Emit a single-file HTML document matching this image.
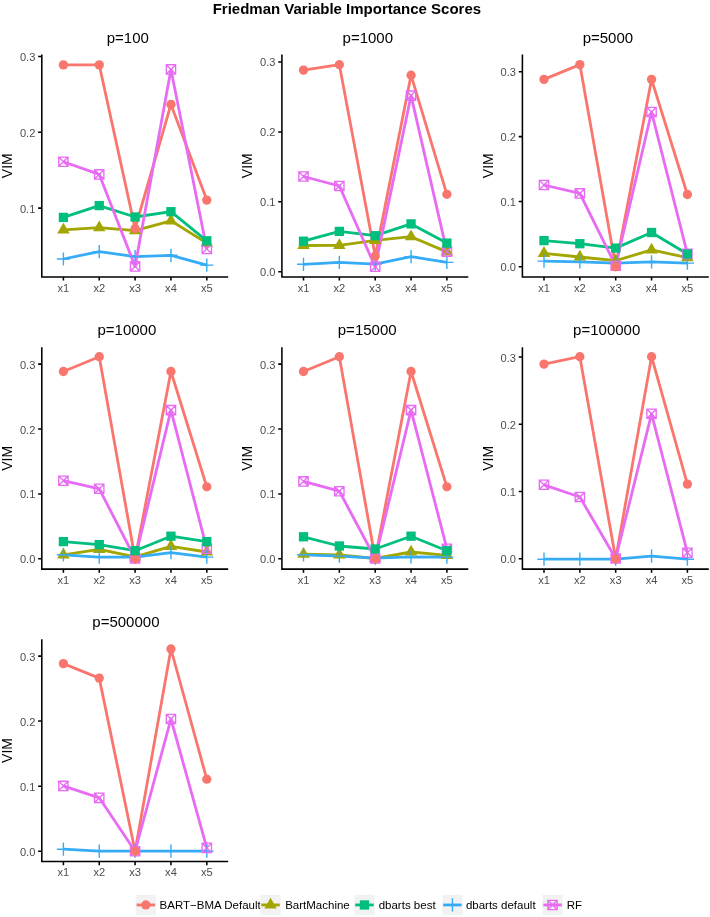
<!DOCTYPE html>
<html lang="en">
<head>
<meta charset="utf-8">
<title>Friedman Variable Importance Scores</title>
<style>
html,body{margin:0;padding:0;background:#fff;}
body{width:710px;height:917px;overflow:hidden;font-family:"Liberation Sans",sans-serif;}
svg{display:block;}
</style>
</head>
<body>
<svg width="710" height="917" viewBox="0 0 710 917" font-family="'Liberation Sans', sans-serif">
<rect width="710" height="917" fill="#ffffff"/>
<text x="346.9" y="13.9" font-size="15" font-weight="bold" text-anchor="middle" fill="#000">Friedman Variable Importance Scores</text>
<g>
<text x="127.8" y="43.3" font-size="15" text-anchor="middle" fill="#000">p=100</text>
<polyline points="63.4,64.9 99.25,64.9 135.1,228.5 170.95,104.4 206.8,200.1" fill="none" stroke="#F8766D" stroke-width="2.8" stroke-linejoin="round"/>
<polyline points="63.4,229.9 99.25,227.6 135.1,230.6 170.95,220.8 206.8,243.1" fill="none" stroke="#A3A500" stroke-width="2.8" stroke-linejoin="round"/>
<polyline points="63.4,217.4 99.25,205.6 135.1,217 170.95,211.7 206.8,240.8" fill="none" stroke="#00BF7D" stroke-width="2.8" stroke-linejoin="round"/>
<polyline points="63.4,259 99.25,251.6 135.1,256.6 170.95,255.3 206.8,265.1" fill="none" stroke="#35ACF5" stroke-width="2.8" stroke-linejoin="round"/>
<polyline points="63.4,161.7 99.25,174.4 135.1,266.4 170.95,69.4 206.8,248.9" fill="none" stroke="#E76BF3" stroke-width="2.8" stroke-linejoin="round"/>
<path d="M63.4 222.69L69.65 233.51L57.15 233.51Z" fill="#A3A500"/>
<path d="M99.25 220.39L105.5 231.21L93 231.21Z" fill="#A3A500"/>
<path d="M135.1 223.39L141.35 234.21L128.85 234.21Z" fill="#A3A500"/>
<path d="M170.95 213.59L177.2 224.41L164.7 224.41Z" fill="#A3A500"/>
<path d="M206.8 235.89L213.05 246.71L200.55 246.71Z" fill="#A3A500"/>
<path d="M56.82 259H69.98M63.4 252.42V265.58" stroke="#35ACF5" stroke-width="1.4" fill="none"/>
<path d="M92.67 251.6H105.83M99.25 245.02V258.18" stroke="#35ACF5" stroke-width="1.4" fill="none"/>
<path d="M128.52 256.6H141.68M135.1 250.02V263.18" stroke="#35ACF5" stroke-width="1.4" fill="none"/>
<path d="M164.37 255.3H177.53M170.95 248.72V261.88" stroke="#35ACF5" stroke-width="1.4" fill="none"/>
<path d="M200.22 265.1H213.38M206.8 258.52V271.68" stroke="#35ACF5" stroke-width="1.4" fill="none"/>
<path d="M58.75 157.05h9.3v9.3h-9.3zM58.75 157.05l9.3 9.3M58.75 166.35l9.3 -9.3" stroke="#E76BF3" stroke-width="1.35" fill="none"/>
<path d="M94.6 169.75h9.3v9.3h-9.3zM94.6 169.75l9.3 9.3M94.6 179.05l9.3 -9.3" stroke="#E76BF3" stroke-width="1.35" fill="none"/>
<path d="M130.45 261.75h9.3v9.3h-9.3zM130.45 261.75l9.3 9.3M130.45 271.05l9.3 -9.3" stroke="#E76BF3" stroke-width="1.35" fill="none"/>
<path d="M166.3 64.75h9.3v9.3h-9.3zM166.3 64.75l9.3 9.3M166.3 74.05l9.3 -9.3" stroke="#E76BF3" stroke-width="1.35" fill="none"/>
<path d="M202.15 244.25h9.3v9.3h-9.3zM202.15 244.25l9.3 9.3M202.15 253.55l9.3 -9.3" stroke="#E76BF3" stroke-width="1.35" fill="none"/>
<circle cx="63.4" cy="64.9" r="4.65" fill="#F8766D"/>
<circle cx="99.25" cy="64.9" r="4.65" fill="#F8766D"/>
<circle cx="135.1" cy="228.5" r="4.65" fill="#F8766D"/>
<circle cx="170.95" cy="104.4" r="4.65" fill="#F8766D"/>
<circle cx="206.8" cy="200.1" r="4.65" fill="#F8766D"/>
<rect x="58.75" y="212.75" width="9.3" height="9.3" fill="#00BF7D"/>
<rect x="94.6" y="200.95" width="9.3" height="9.3" fill="#00BF7D"/>
<rect x="130.45" y="212.35" width="9.3" height="9.3" fill="#00BF7D"/>
<rect x="166.3" y="207.05" width="9.3" height="9.3" fill="#00BF7D"/>
<rect x="202.15" y="236.15" width="9.3" height="9.3" fill="#00BF7D"/>
<path d="M41.8 54.4V276.9H228.2" fill="none" stroke="#000000" stroke-width="1.55" stroke-linejoin="miter"/>
<text x="35.3" y="60.9" font-size="11.1" text-anchor="end" fill="#4D4D4D">0.3</text>
<text x="35.3" y="136.8" font-size="11.1" text-anchor="end" fill="#4D4D4D">0.2</text>
<text x="35.3" y="212.6" font-size="11.1" text-anchor="end" fill="#4D4D4D">0.1</text>
<text x="63.4" y="291.5" font-size="11.1" text-anchor="middle" fill="#4D4D4D">x1</text>
<text x="99.25" y="291.5" font-size="11.1" text-anchor="middle" fill="#4D4D4D">x2</text>
<text x="135.1" y="291.5" font-size="11.1" text-anchor="middle" fill="#4D4D4D">x3</text>
<text x="170.95" y="291.5" font-size="11.1" text-anchor="middle" fill="#4D4D4D">x4</text>
<text x="206.8" y="291.5" font-size="11.1" text-anchor="middle" fill="#4D4D4D">x5</text>
<path d="M41.8 56.4h-3.67M41.8 132.3h-3.67M41.8 208.1h-3.67M63.4 276.9v3.67M99.25 276.9v3.67M135.1 276.9v3.67M170.95 276.9v3.67M206.8 276.9v3.67" fill="none" stroke="#000000" stroke-width="1.55"/>
<text transform="translate(11.9 165.75) rotate(-90)" font-size="14" text-anchor="middle" fill="#000">VIM</text>
</g>
<g>
<text x="367.8" y="43.3" font-size="15" text-anchor="middle" fill="#000">p=1000</text>
<polyline points="303.5,70.1 339.35,64.7 375.2,256 411.05,75.2 446.9,194.3" fill="none" stroke="#F8766D" stroke-width="2.8" stroke-linejoin="round"/>
<polyline points="303.5,245.5 339.35,245.4 375.2,240.4 411.05,236.7 446.9,251.9" fill="none" stroke="#A3A500" stroke-width="2.8" stroke-linejoin="round"/>
<polyline points="303.5,241.2 339.35,231.4 375.2,235.7 411.05,223.9 446.9,243.1" fill="none" stroke="#00BF7D" stroke-width="2.8" stroke-linejoin="round"/>
<polyline points="303.5,264.3 339.35,262.4 375.2,264.1 411.05,256.6 446.9,262.4" fill="none" stroke="#35ACF5" stroke-width="2.8" stroke-linejoin="round"/>
<polyline points="303.5,176.5 339.35,186 375.2,266.8 411.05,95.6 446.9,251.6" fill="none" stroke="#E76BF3" stroke-width="2.8" stroke-linejoin="round"/>
<path d="M303.5 238.29L309.75 249.11L297.25 249.11Z" fill="#A3A500"/>
<path d="M339.35 238.19L345.6 249.01L333.1 249.01Z" fill="#A3A500"/>
<path d="M375.2 233.19L381.45 244.01L368.95 244.01Z" fill="#A3A500"/>
<path d="M411.05 229.49L417.3 240.31L404.8 240.31Z" fill="#A3A500"/>
<path d="M446.9 244.69L453.15 255.51L440.65 255.51Z" fill="#A3A500"/>
<path d="M296.92 264.3H310.08M303.5 257.72V270.88" stroke="#35ACF5" stroke-width="1.4" fill="none"/>
<path d="M332.77 262.4H345.93M339.35 255.82V268.98" stroke="#35ACF5" stroke-width="1.4" fill="none"/>
<path d="M368.62 264.1H381.78M375.2 257.52V270.68" stroke="#35ACF5" stroke-width="1.4" fill="none"/>
<path d="M404.47 256.6H417.63M411.05 250.02V263.18" stroke="#35ACF5" stroke-width="1.4" fill="none"/>
<path d="M440.32 262.4H453.48M446.9 255.82V268.98" stroke="#35ACF5" stroke-width="1.4" fill="none"/>
<path d="M298.85 171.85h9.3v9.3h-9.3zM298.85 171.85l9.3 9.3M298.85 181.15l9.3 -9.3" stroke="#E76BF3" stroke-width="1.35" fill="none"/>
<path d="M334.7 181.35h9.3v9.3h-9.3zM334.7 181.35l9.3 9.3M334.7 190.65l9.3 -9.3" stroke="#E76BF3" stroke-width="1.35" fill="none"/>
<path d="M370.55 262.15h9.3v9.3h-9.3zM370.55 262.15l9.3 9.3M370.55 271.45l9.3 -9.3" stroke="#E76BF3" stroke-width="1.35" fill="none"/>
<path d="M406.4 90.95h9.3v9.3h-9.3zM406.4 90.95l9.3 9.3M406.4 100.25l9.3 -9.3" stroke="#E76BF3" stroke-width="1.35" fill="none"/>
<path d="M442.25 246.95h9.3v9.3h-9.3zM442.25 246.95l9.3 9.3M442.25 256.25l9.3 -9.3" stroke="#E76BF3" stroke-width="1.35" fill="none"/>
<circle cx="303.5" cy="70.1" r="4.65" fill="#F8766D"/>
<circle cx="339.35" cy="64.7" r="4.65" fill="#F8766D"/>
<circle cx="375.2" cy="256" r="4.65" fill="#F8766D"/>
<circle cx="411.05" cy="75.2" r="4.65" fill="#F8766D"/>
<circle cx="446.9" cy="194.3" r="4.65" fill="#F8766D"/>
<rect x="298.85" y="236.55" width="9.3" height="9.3" fill="#00BF7D"/>
<rect x="334.7" y="226.75" width="9.3" height="9.3" fill="#00BF7D"/>
<rect x="370.55" y="231.05" width="9.3" height="9.3" fill="#00BF7D"/>
<rect x="406.4" y="219.25" width="9.3" height="9.3" fill="#00BF7D"/>
<rect x="442.25" y="238.45" width="9.3" height="9.3" fill="#00BF7D"/>
<path d="M281.9 54.4V276.9H468.3" fill="none" stroke="#000000" stroke-width="1.55" stroke-linejoin="miter"/>
<text x="275.4" y="66.4" font-size="11.1" text-anchor="end" fill="#4D4D4D">0.3</text>
<text x="275.4" y="136.4" font-size="11.1" text-anchor="end" fill="#4D4D4D">0.2</text>
<text x="275.4" y="206.2" font-size="11.1" text-anchor="end" fill="#4D4D4D">0.1</text>
<text x="275.4" y="276.2" font-size="11.1" text-anchor="end" fill="#4D4D4D">0.0</text>
<text x="303.5" y="291.5" font-size="11.1" text-anchor="middle" fill="#4D4D4D">x1</text>
<text x="339.35" y="291.5" font-size="11.1" text-anchor="middle" fill="#4D4D4D">x2</text>
<text x="375.2" y="291.5" font-size="11.1" text-anchor="middle" fill="#4D4D4D">x3</text>
<text x="411.05" y="291.5" font-size="11.1" text-anchor="middle" fill="#4D4D4D">x4</text>
<text x="446.9" y="291.5" font-size="11.1" text-anchor="middle" fill="#4D4D4D">x5</text>
<path d="M281.9 61.9h-3.67M281.9 131.9h-3.67M281.9 201.7h-3.67M281.9 271.7h-3.67M303.5 276.9v3.67M339.35 276.9v3.67M375.2 276.9v3.67M411.05 276.9v3.67M446.9 276.9v3.67" fill="none" stroke="#000000" stroke-width="1.55"/>
<text transform="translate(252 165.75) rotate(-90)" font-size="14" text-anchor="middle" fill="#000">VIM</text>
</g>
<g>
<text x="607.9" y="43.3" font-size="15" text-anchor="middle" fill="#000">p=5000</text>
<polyline points="544,79.4 579.85,64.6 615.7,266.8 651.55,79.4 687.4,194.5" fill="none" stroke="#F8766D" stroke-width="2.8" stroke-linejoin="round"/>
<polyline points="544,253.3 579.85,257 615.7,260.7 651.55,249.9 687.4,257.7" fill="none" stroke="#A3A500" stroke-width="2.8" stroke-linejoin="round"/>
<polyline points="544,240.6 579.85,243.7 615.7,248.1 651.55,232.5 687.4,254" fill="none" stroke="#00BF7D" stroke-width="2.8" stroke-linejoin="round"/>
<polyline points="544,261.1 579.85,261.8 615.7,263.1 651.55,261.8 687.4,263.1" fill="none" stroke="#35ACF5" stroke-width="2.8" stroke-linejoin="round"/>
<polyline points="544,185 579.85,193.4 615.7,265.8 651.55,112 687.4,253.9" fill="none" stroke="#E76BF3" stroke-width="2.8" stroke-linejoin="round"/>
<path d="M544 246.09L550.25 256.91L537.75 256.91Z" fill="#A3A500"/>
<path d="M579.85 249.79L586.1 260.61L573.6 260.61Z" fill="#A3A500"/>
<path d="M615.7 253.49L621.95 264.31L609.45 264.31Z" fill="#A3A500"/>
<path d="M651.55 242.69L657.8 253.51L645.3 253.51Z" fill="#A3A500"/>
<path d="M687.4 250.49L693.65 261.31L681.15 261.31Z" fill="#A3A500"/>
<path d="M537.42 261.1H550.58M544 254.52V267.68" stroke="#35ACF5" stroke-width="1.4" fill="none"/>
<path d="M573.27 261.8H586.43M579.85 255.22V268.38" stroke="#35ACF5" stroke-width="1.4" fill="none"/>
<path d="M609.12 263.1H622.28M615.7 256.52V269.68" stroke="#35ACF5" stroke-width="1.4" fill="none"/>
<path d="M644.97 261.8H658.13M651.55 255.22V268.38" stroke="#35ACF5" stroke-width="1.4" fill="none"/>
<path d="M680.82 263.1H693.98M687.4 256.52V269.68" stroke="#35ACF5" stroke-width="1.4" fill="none"/>
<path d="M539.35 180.35h9.3v9.3h-9.3zM539.35 180.35l9.3 9.3M539.35 189.65l9.3 -9.3" stroke="#E76BF3" stroke-width="1.35" fill="none"/>
<path d="M575.2 188.75h9.3v9.3h-9.3zM575.2 188.75l9.3 9.3M575.2 198.05l9.3 -9.3" stroke="#E76BF3" stroke-width="1.35" fill="none"/>
<path d="M611.05 261.15h9.3v9.3h-9.3zM611.05 261.15l9.3 9.3M611.05 270.45l9.3 -9.3" stroke="#E76BF3" stroke-width="1.35" fill="none"/>
<path d="M646.9 107.35h9.3v9.3h-9.3zM646.9 107.35l9.3 9.3M646.9 116.65l9.3 -9.3" stroke="#E76BF3" stroke-width="1.35" fill="none"/>
<path d="M682.75 249.25h9.3v9.3h-9.3zM682.75 249.25l9.3 9.3M682.75 258.55l9.3 -9.3" stroke="#E76BF3" stroke-width="1.35" fill="none"/>
<circle cx="544" cy="79.4" r="4.65" fill="#F8766D"/>
<circle cx="579.85" cy="64.6" r="4.65" fill="#F8766D"/>
<circle cx="615.7" cy="266.8" r="4.65" fill="#F8766D"/>
<circle cx="651.55" cy="79.4" r="4.65" fill="#F8766D"/>
<circle cx="687.4" cy="194.5" r="4.65" fill="#F8766D"/>
<rect x="539.35" y="235.95" width="9.3" height="9.3" fill="#00BF7D"/>
<rect x="575.2" y="239.05" width="9.3" height="9.3" fill="#00BF7D"/>
<rect x="611.05" y="243.45" width="9.3" height="9.3" fill="#00BF7D"/>
<rect x="646.9" y="227.85" width="9.3" height="9.3" fill="#00BF7D"/>
<rect x="682.75" y="249.35" width="9.3" height="9.3" fill="#00BF7D"/>
<path d="M522.4 54.4V276.9H708.8" fill="none" stroke="#000000" stroke-width="1.55" stroke-linejoin="miter"/>
<text x="515.9" y="76.2" font-size="11.1" text-anchor="end" fill="#4D4D4D">0.3</text>
<text x="515.9" y="141.1" font-size="11.1" text-anchor="end" fill="#4D4D4D">0.2</text>
<text x="515.9" y="206" font-size="11.1" text-anchor="end" fill="#4D4D4D">0.1</text>
<text x="515.9" y="271.3" font-size="11.1" text-anchor="end" fill="#4D4D4D">0.0</text>
<text x="544" y="291.5" font-size="11.1" text-anchor="middle" fill="#4D4D4D">x1</text>
<text x="579.85" y="291.5" font-size="11.1" text-anchor="middle" fill="#4D4D4D">x2</text>
<text x="615.7" y="291.5" font-size="11.1" text-anchor="middle" fill="#4D4D4D">x3</text>
<text x="651.55" y="291.5" font-size="11.1" text-anchor="middle" fill="#4D4D4D">x4</text>
<text x="687.4" y="291.5" font-size="11.1" text-anchor="middle" fill="#4D4D4D">x5</text>
<path d="M522.4 71.7h-3.67M522.4 136.6h-3.67M522.4 201.5h-3.67M522.4 266.8h-3.67M544 276.9v3.67M579.85 276.9v3.67M615.7 276.9v3.67M651.55 276.9v3.67M687.4 276.9v3.67" fill="none" stroke="#000000" stroke-width="1.55"/>
<text transform="translate(492.5 165.75) rotate(-90)" font-size="14" text-anchor="middle" fill="#000">VIM</text>
</g>
<g>
<text x="126.9" y="334.9" font-size="15" text-anchor="middle" fill="#000">p=10000</text>
<polyline points="63.4,371.5 99.25,356.7 135.1,558.8 170.95,371.5 206.8,486.8" fill="none" stroke="#F8766D" stroke-width="2.8" stroke-linejoin="round"/>
<polyline points="63.4,554.8 99.25,549.3 135.1,556.8 170.95,546.3 206.8,552" fill="none" stroke="#A3A500" stroke-width="2.8" stroke-linejoin="round"/>
<polyline points="63.4,541.6 99.25,544.6 135.1,550.7 170.95,536.2 206.8,541.6" fill="none" stroke="#00BF7D" stroke-width="2.8" stroke-linejoin="round"/>
<polyline points="63.4,554.8 99.25,557.1 135.1,557.1 170.95,552.7 206.8,557.1" fill="none" stroke="#35ACF5" stroke-width="2.8" stroke-linejoin="round"/>
<polyline points="63.4,480.7 99.25,488.8 135.1,558.5 170.95,410.1 206.8,548.7" fill="none" stroke="#E76BF3" stroke-width="2.8" stroke-linejoin="round"/>
<path d="M63.4 547.59L69.65 558.41L57.15 558.41Z" fill="#A3A500"/>
<path d="M99.25 542.09L105.5 552.91L93 552.91Z" fill="#A3A500"/>
<path d="M135.1 549.59L141.35 560.41L128.85 560.41Z" fill="#A3A500"/>
<path d="M170.95 539.09L177.2 549.91L164.7 549.91Z" fill="#A3A500"/>
<path d="M206.8 544.79L213.05 555.61L200.55 555.61Z" fill="#A3A500"/>
<path d="M56.82 554.8H69.98M63.4 548.22V561.38" stroke="#35ACF5" stroke-width="1.4" fill="none"/>
<path d="M92.67 557.1H105.83M99.25 550.52V563.68" stroke="#35ACF5" stroke-width="1.4" fill="none"/>
<path d="M128.52 557.1H141.68M135.1 550.52V563.68" stroke="#35ACF5" stroke-width="1.4" fill="none"/>
<path d="M164.37 552.7H177.53M170.95 546.12V559.28" stroke="#35ACF5" stroke-width="1.4" fill="none"/>
<path d="M200.22 557.1H213.38M206.8 550.52V563.68" stroke="#35ACF5" stroke-width="1.4" fill="none"/>
<path d="M58.75 476.05h9.3v9.3h-9.3zM58.75 476.05l9.3 9.3M58.75 485.35l9.3 -9.3" stroke="#E76BF3" stroke-width="1.35" fill="none"/>
<path d="M94.6 484.15h9.3v9.3h-9.3zM94.6 484.15l9.3 9.3M94.6 493.45l9.3 -9.3" stroke="#E76BF3" stroke-width="1.35" fill="none"/>
<path d="M130.45 553.85h9.3v9.3h-9.3zM130.45 553.85l9.3 9.3M130.45 563.15l9.3 -9.3" stroke="#E76BF3" stroke-width="1.35" fill="none"/>
<path d="M166.3 405.45h9.3v9.3h-9.3zM166.3 405.45l9.3 9.3M166.3 414.75l9.3 -9.3" stroke="#E76BF3" stroke-width="1.35" fill="none"/>
<path d="M202.15 544.05h9.3v9.3h-9.3zM202.15 544.05l9.3 9.3M202.15 553.35l9.3 -9.3" stroke="#E76BF3" stroke-width="1.35" fill="none"/>
<circle cx="63.4" cy="371.5" r="4.65" fill="#F8766D"/>
<circle cx="99.25" cy="356.7" r="4.65" fill="#F8766D"/>
<circle cx="135.1" cy="558.8" r="4.65" fill="#F8766D"/>
<circle cx="170.95" cy="371.5" r="4.65" fill="#F8766D"/>
<circle cx="206.8" cy="486.8" r="4.65" fill="#F8766D"/>
<rect x="58.75" y="536.95" width="9.3" height="9.3" fill="#00BF7D"/>
<rect x="94.6" y="539.95" width="9.3" height="9.3" fill="#00BF7D"/>
<rect x="130.45" y="546.05" width="9.3" height="9.3" fill="#00BF7D"/>
<rect x="166.3" y="531.55" width="9.3" height="9.3" fill="#00BF7D"/>
<rect x="202.15" y="536.95" width="9.3" height="9.3" fill="#00BF7D"/>
<path d="M41.8 347.3V569.1H228.2" fill="none" stroke="#000000" stroke-width="1.55" stroke-linejoin="miter"/>
<text x="35.3" y="368.6" font-size="11.1" text-anchor="end" fill="#4D4D4D">0.3</text>
<text x="35.3" y="433.5" font-size="11.1" text-anchor="end" fill="#4D4D4D">0.2</text>
<text x="35.3" y="498.4" font-size="11.1" text-anchor="end" fill="#4D4D4D">0.1</text>
<text x="35.3" y="563.3" font-size="11.1" text-anchor="end" fill="#4D4D4D">0.0</text>
<text x="63.4" y="583.7" font-size="11.1" text-anchor="middle" fill="#4D4D4D">x1</text>
<text x="99.25" y="583.7" font-size="11.1" text-anchor="middle" fill="#4D4D4D">x2</text>
<text x="135.1" y="583.7" font-size="11.1" text-anchor="middle" fill="#4D4D4D">x3</text>
<text x="170.95" y="583.7" font-size="11.1" text-anchor="middle" fill="#4D4D4D">x4</text>
<text x="206.8" y="583.7" font-size="11.1" text-anchor="middle" fill="#4D4D4D">x5</text>
<path d="M41.8 364.1h-3.67M41.8 429h-3.67M41.8 493.9h-3.67M41.8 558.8h-3.67M63.4 569.1v3.67M99.25 569.1v3.67M135.1 569.1v3.67M170.95 569.1v3.67M206.8 569.1v3.67" fill="none" stroke="#000000" stroke-width="1.55"/>
<text transform="translate(11.9 458.3) rotate(-90)" font-size="14" text-anchor="middle" fill="#000">VIM</text>
</g>
<g>
<text x="367.2" y="334.9" font-size="15" text-anchor="middle" fill="#000">p=15000</text>
<polyline points="303.5,371.5 339.35,356.7 375.2,558.8 411.05,371.5 446.9,486.8" fill="none" stroke="#F8766D" stroke-width="2.8" stroke-linejoin="round"/>
<polyline points="303.5,554.1 339.35,554.8 375.2,558.5 411.05,552 446.9,555.4" fill="none" stroke="#A3A500" stroke-width="2.8" stroke-linejoin="round"/>
<polyline points="303.5,536.8 339.35,546 375.2,549 411.05,536.2 446.9,550.7" fill="none" stroke="#00BF7D" stroke-width="2.8" stroke-linejoin="round"/>
<polyline points="303.5,554.8 339.35,556.1 375.2,558.1 411.05,556.8 446.9,557.1" fill="none" stroke="#35ACF5" stroke-width="2.8" stroke-linejoin="round"/>
<polyline points="303.5,481.4 339.35,491.2 375.2,558.5 411.05,410.1 446.9,548.7" fill="none" stroke="#E76BF3" stroke-width="2.8" stroke-linejoin="round"/>
<path d="M303.5 546.89L309.75 557.71L297.25 557.71Z" fill="#A3A500"/>
<path d="M339.35 547.59L345.6 558.41L333.1 558.41Z" fill="#A3A500"/>
<path d="M375.2 551.29L381.45 562.11L368.95 562.11Z" fill="#A3A500"/>
<path d="M411.05 544.79L417.3 555.61L404.8 555.61Z" fill="#A3A500"/>
<path d="M446.9 548.19L453.15 559.01L440.65 559.01Z" fill="#A3A500"/>
<path d="M296.92 554.8H310.08M303.5 548.22V561.38" stroke="#35ACF5" stroke-width="1.4" fill="none"/>
<path d="M332.77 556.1H345.93M339.35 549.52V562.68" stroke="#35ACF5" stroke-width="1.4" fill="none"/>
<path d="M368.62 558.1H381.78M375.2 551.52V564.68" stroke="#35ACF5" stroke-width="1.4" fill="none"/>
<path d="M404.47 556.8H417.63M411.05 550.22V563.38" stroke="#35ACF5" stroke-width="1.4" fill="none"/>
<path d="M440.32 557.1H453.48M446.9 550.52V563.68" stroke="#35ACF5" stroke-width="1.4" fill="none"/>
<path d="M298.85 476.75h9.3v9.3h-9.3zM298.85 476.75l9.3 9.3M298.85 486.05l9.3 -9.3" stroke="#E76BF3" stroke-width="1.35" fill="none"/>
<path d="M334.7 486.55h9.3v9.3h-9.3zM334.7 486.55l9.3 9.3M334.7 495.85l9.3 -9.3" stroke="#E76BF3" stroke-width="1.35" fill="none"/>
<path d="M370.55 553.85h9.3v9.3h-9.3zM370.55 553.85l9.3 9.3M370.55 563.15l9.3 -9.3" stroke="#E76BF3" stroke-width="1.35" fill="none"/>
<path d="M406.4 405.45h9.3v9.3h-9.3zM406.4 405.45l9.3 9.3M406.4 414.75l9.3 -9.3" stroke="#E76BF3" stroke-width="1.35" fill="none"/>
<path d="M442.25 544.05h9.3v9.3h-9.3zM442.25 544.05l9.3 9.3M442.25 553.35l9.3 -9.3" stroke="#E76BF3" stroke-width="1.35" fill="none"/>
<circle cx="303.5" cy="371.5" r="4.65" fill="#F8766D"/>
<circle cx="339.35" cy="356.7" r="4.65" fill="#F8766D"/>
<circle cx="375.2" cy="558.8" r="4.65" fill="#F8766D"/>
<circle cx="411.05" cy="371.5" r="4.65" fill="#F8766D"/>
<circle cx="446.9" cy="486.8" r="4.65" fill="#F8766D"/>
<rect x="298.85" y="532.15" width="9.3" height="9.3" fill="#00BF7D"/>
<rect x="334.7" y="541.35" width="9.3" height="9.3" fill="#00BF7D"/>
<rect x="370.55" y="544.35" width="9.3" height="9.3" fill="#00BF7D"/>
<rect x="406.4" y="531.55" width="9.3" height="9.3" fill="#00BF7D"/>
<rect x="442.25" y="546.05" width="9.3" height="9.3" fill="#00BF7D"/>
<path d="M281.9 347.3V569.1H468.3" fill="none" stroke="#000000" stroke-width="1.55" stroke-linejoin="miter"/>
<text x="275.4" y="368.6" font-size="11.1" text-anchor="end" fill="#4D4D4D">0.3</text>
<text x="275.4" y="433.5" font-size="11.1" text-anchor="end" fill="#4D4D4D">0.2</text>
<text x="275.4" y="498.4" font-size="11.1" text-anchor="end" fill="#4D4D4D">0.1</text>
<text x="275.4" y="563.3" font-size="11.1" text-anchor="end" fill="#4D4D4D">0.0</text>
<text x="303.5" y="583.7" font-size="11.1" text-anchor="middle" fill="#4D4D4D">x1</text>
<text x="339.35" y="583.7" font-size="11.1" text-anchor="middle" fill="#4D4D4D">x2</text>
<text x="375.2" y="583.7" font-size="11.1" text-anchor="middle" fill="#4D4D4D">x3</text>
<text x="411.05" y="583.7" font-size="11.1" text-anchor="middle" fill="#4D4D4D">x4</text>
<text x="446.9" y="583.7" font-size="11.1" text-anchor="middle" fill="#4D4D4D">x5</text>
<path d="M281.9 364.1h-3.67M281.9 429h-3.67M281.9 493.9h-3.67M281.9 558.8h-3.67M303.5 569.1v3.67M339.35 569.1v3.67M375.2 569.1v3.67M411.05 569.1v3.67M446.9 569.1v3.67" fill="none" stroke="#000000" stroke-width="1.55"/>
<text transform="translate(252 458.3) rotate(-90)" font-size="14" text-anchor="middle" fill="#000">VIM</text>
</g>
<g>
<text x="606.7" y="334.9" font-size="15" text-anchor="middle" fill="#000">p=100000</text>
<polyline points="544,364.1 579.85,356.7 615.7,558.8 651.55,356.7 687.4,484.1" fill="none" stroke="#F8766D" stroke-width="2.8" stroke-linejoin="round"/>
<polyline points="544,559.2 579.85,559.2 615.7,559.2 651.55,556.1 687.4,559.2" fill="none" stroke="#35ACF5" stroke-width="2.8" stroke-linejoin="round"/>
<polyline points="544,484.8 579.85,497 615.7,558.5 651.55,413.8 687.4,552.7" fill="none" stroke="#E76BF3" stroke-width="2.8" stroke-linejoin="round"/>
<path d="M537.42 559.2H550.58M544 552.62V565.78" stroke="#35ACF5" stroke-width="1.4" fill="none"/>
<path d="M573.27 559.2H586.43M579.85 552.62V565.78" stroke="#35ACF5" stroke-width="1.4" fill="none"/>
<path d="M609.12 559.2H622.28M615.7 552.62V565.78" stroke="#35ACF5" stroke-width="1.4" fill="none"/>
<path d="M644.97 556.1H658.13M651.55 549.52V562.68" stroke="#35ACF5" stroke-width="1.4" fill="none"/>
<path d="M680.82 559.2H693.98M687.4 552.62V565.78" stroke="#35ACF5" stroke-width="1.4" fill="none"/>
<path d="M539.35 480.15h9.3v9.3h-9.3zM539.35 480.15l9.3 9.3M539.35 489.45l9.3 -9.3" stroke="#E76BF3" stroke-width="1.35" fill="none"/>
<path d="M575.2 492.35h9.3v9.3h-9.3zM575.2 492.35l9.3 9.3M575.2 501.65l9.3 -9.3" stroke="#E76BF3" stroke-width="1.35" fill="none"/>
<path d="M611.05 553.85h9.3v9.3h-9.3zM611.05 553.85l9.3 9.3M611.05 563.15l9.3 -9.3" stroke="#E76BF3" stroke-width="1.35" fill="none"/>
<path d="M646.9 409.15h9.3v9.3h-9.3zM646.9 409.15l9.3 9.3M646.9 418.45l9.3 -9.3" stroke="#E76BF3" stroke-width="1.35" fill="none"/>
<path d="M682.75 548.05h9.3v9.3h-9.3zM682.75 548.05l9.3 9.3M682.75 557.35l9.3 -9.3" stroke="#E76BF3" stroke-width="1.35" fill="none"/>
<circle cx="544" cy="364.1" r="4.65" fill="#F8766D"/>
<circle cx="579.85" cy="356.7" r="4.65" fill="#F8766D"/>
<circle cx="615.7" cy="558.8" r="4.65" fill="#F8766D"/>
<circle cx="651.55" cy="356.7" r="4.65" fill="#F8766D"/>
<circle cx="687.4" cy="484.1" r="4.65" fill="#F8766D"/>
<path d="M522.4 347.3V569.1H708.8" fill="none" stroke="#000000" stroke-width="1.55" stroke-linejoin="miter"/>
<text x="515.9" y="361.5" font-size="11.1" text-anchor="end" fill="#4D4D4D">0.3</text>
<text x="515.9" y="428.8" font-size="11.1" text-anchor="end" fill="#4D4D4D">0.2</text>
<text x="515.9" y="496" font-size="11.1" text-anchor="end" fill="#4D4D4D">0.1</text>
<text x="515.9" y="563.3" font-size="11.1" text-anchor="end" fill="#4D4D4D">0.0</text>
<text x="544" y="583.7" font-size="11.1" text-anchor="middle" fill="#4D4D4D">x1</text>
<text x="579.85" y="583.7" font-size="11.1" text-anchor="middle" fill="#4D4D4D">x2</text>
<text x="615.7" y="583.7" font-size="11.1" text-anchor="middle" fill="#4D4D4D">x3</text>
<text x="651.55" y="583.7" font-size="11.1" text-anchor="middle" fill="#4D4D4D">x4</text>
<text x="687.4" y="583.7" font-size="11.1" text-anchor="middle" fill="#4D4D4D">x5</text>
<path d="M522.4 357h-3.67M522.4 424.3h-3.67M522.4 491.5h-3.67M522.4 558.8h-3.67M544 569.1v3.67M579.85 569.1v3.67M615.7 569.1v3.67M651.55 569.1v3.67M687.4 569.1v3.67" fill="none" stroke="#000000" stroke-width="1.55"/>
<text transform="translate(492.5 458.3) rotate(-90)" font-size="14" text-anchor="middle" fill="#000">VIM</text>
</g>
<g>
<text x="125.9" y="627.3" font-size="15" text-anchor="middle" fill="#000">p=500000</text>
<polyline points="63.4,663.6 99.25,678.1 135.1,851.2 170.95,649 206.8,779.2" fill="none" stroke="#F8766D" stroke-width="2.8" stroke-linejoin="round"/>
<polyline points="63.4,849.2 99.25,851.2 135.1,851.2 170.95,851.2 206.8,851.2" fill="none" stroke="#35ACF5" stroke-width="2.8" stroke-linejoin="round"/>
<polyline points="63.4,785.9 99.25,797.8 135.1,851.2 170.95,719 206.8,847.8" fill="none" stroke="#E76BF3" stroke-width="2.8" stroke-linejoin="round"/>
<path d="M56.82 849.2H69.98M63.4 842.62V855.78" stroke="#35ACF5" stroke-width="1.4" fill="none"/>
<path d="M92.67 851.2H105.83M99.25 844.62V857.78" stroke="#35ACF5" stroke-width="1.4" fill="none"/>
<path d="M128.52 851.2H141.68M135.1 844.62V857.78" stroke="#35ACF5" stroke-width="1.4" fill="none"/>
<path d="M164.37 851.2H177.53M170.95 844.62V857.78" stroke="#35ACF5" stroke-width="1.4" fill="none"/>
<path d="M200.22 851.2H213.38M206.8 844.62V857.78" stroke="#35ACF5" stroke-width="1.4" fill="none"/>
<path d="M58.75 781.25h9.3v9.3h-9.3zM58.75 781.25l9.3 9.3M58.75 790.55l9.3 -9.3" stroke="#E76BF3" stroke-width="1.35" fill="none"/>
<path d="M94.6 793.15h9.3v9.3h-9.3zM94.6 793.15l9.3 9.3M94.6 802.45l9.3 -9.3" stroke="#E76BF3" stroke-width="1.35" fill="none"/>
<path d="M130.45 846.55h9.3v9.3h-9.3zM130.45 846.55l9.3 9.3M130.45 855.85l9.3 -9.3" stroke="#E76BF3" stroke-width="1.35" fill="none"/>
<path d="M166.3 714.35h9.3v9.3h-9.3zM166.3 714.35l9.3 9.3M166.3 723.65l9.3 -9.3" stroke="#E76BF3" stroke-width="1.35" fill="none"/>
<path d="M202.15 843.15h9.3v9.3h-9.3zM202.15 843.15l9.3 9.3M202.15 852.45l9.3 -9.3" stroke="#E76BF3" stroke-width="1.35" fill="none"/>
<circle cx="63.4" cy="663.6" r="4.65" fill="#F8766D"/>
<circle cx="99.25" cy="678.1" r="4.65" fill="#F8766D"/>
<circle cx="135.1" cy="851.2" r="4.65" fill="#F8766D"/>
<circle cx="170.95" cy="649" r="4.65" fill="#F8766D"/>
<circle cx="206.8" cy="779.2" r="4.65" fill="#F8766D"/>
<path d="M41.8 639.2V861.5H228.2" fill="none" stroke="#000000" stroke-width="1.55" stroke-linejoin="miter"/>
<text x="35.3" y="660.6" font-size="11.1" text-anchor="end" fill="#4D4D4D">0.3</text>
<text x="35.3" y="725.5" font-size="11.1" text-anchor="end" fill="#4D4D4D">0.2</text>
<text x="35.3" y="790.8" font-size="11.1" text-anchor="end" fill="#4D4D4D">0.1</text>
<text x="35.3" y="855.7" font-size="11.1" text-anchor="end" fill="#4D4D4D">0.0</text>
<text x="63.4" y="876.1" font-size="11.1" text-anchor="middle" fill="#4D4D4D">x1</text>
<text x="99.25" y="876.1" font-size="11.1" text-anchor="middle" fill="#4D4D4D">x2</text>
<text x="135.1" y="876.1" font-size="11.1" text-anchor="middle" fill="#4D4D4D">x3</text>
<text x="170.95" y="876.1" font-size="11.1" text-anchor="middle" fill="#4D4D4D">x4</text>
<text x="206.8" y="876.1" font-size="11.1" text-anchor="middle" fill="#4D4D4D">x5</text>
<path d="M41.8 656.1h-3.67M41.8 721h-3.67M41.8 786.3h-3.67M41.8 851.2h-3.67M63.4 861.5v3.67M99.25 861.5v3.67M135.1 861.5v3.67M170.95 861.5v3.67M206.8 861.5v3.67" fill="none" stroke="#000000" stroke-width="1.55"/>
<text transform="translate(11.9 750.45) rotate(-90)" font-size="14" text-anchor="middle" fill="#000">VIM</text>
</g>
<g>
<rect x="135.7" y="894.8" width="20.3" height="20.3" fill="#F2F2F2"/>
<path d="M136.6 904.95H155.1" stroke="#F8766D" stroke-width="2.8" fill="none"/>
<circle cx="145.85" cy="904.95" r="4.65" fill="#F8766D"/>
<text x="159.6" y="909.05" font-size="11.5" fill="#000">BART−BMA Default</text>
<rect x="260.4" y="894.8" width="20.3" height="20.3" fill="#F2F2F2"/>
<path d="M261.3 904.95H279.8" stroke="#A3A500" stroke-width="2.8" fill="none"/>
<path d="M270.55 897.74L276.8 908.56L264.3 908.56Z" fill="#A3A500"/>
<text x="285.2" y="909.05" font-size="11.5" fill="#000">BartMachine</text>
<rect x="354.3" y="894.8" width="20.3" height="20.3" fill="#F2F2F2"/>
<path d="M355.2 904.95H373.7" stroke="#00BF7D" stroke-width="2.8" fill="none"/>
<rect x="359.8" y="900.3" width="9.3" height="9.3" fill="#00BF7D"/>
<text x="378.7" y="909.05" font-size="11.5" fill="#000">dbarts best</text>
<rect x="442.3" y="894.8" width="20.3" height="20.3" fill="#F2F2F2"/>
<path d="M443.2 904.95H461.7" stroke="#35ACF5" stroke-width="2.8" fill="none"/>
<path d="M445.87 904.95H459.03M452.45 898.37V911.53" stroke="#35ACF5" stroke-width="1.4" fill="none"/>
<text x="465.9" y="909.05" font-size="11.5" fill="#000">dbarts default</text>
<rect x="542.4" y="894.8" width="20.3" height="20.3" fill="#F2F2F2"/>
<path d="M543.3 904.95H561.8" stroke="#E76BF3" stroke-width="2.8" fill="none"/>
<path d="M547.9 900.3h9.3v9.3h-9.3zM547.9 900.3l9.3 9.3M547.9 909.6l9.3 -9.3" stroke="#E76BF3" stroke-width="1.35" fill="none"/>
<text x="566.8" y="909.05" font-size="11.5" fill="#000">RF</text>
</g>
</svg>
</body>
</html>
